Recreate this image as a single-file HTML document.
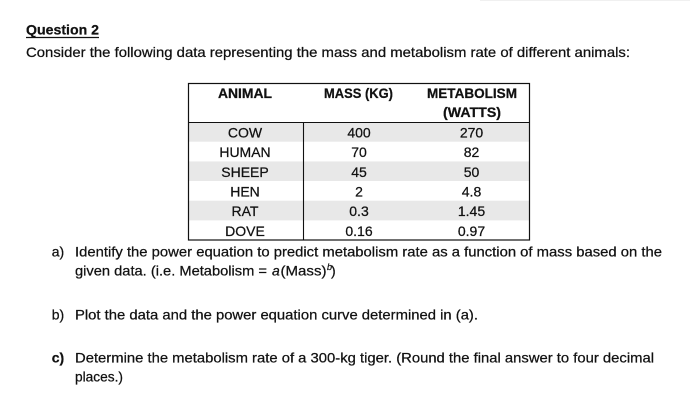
<!DOCTYPE html>
<html>
<head>
<meta charset="utf-8">
<style>
html,body{margin:0;padding:0;background:#fff;}
svg{display:block;}
text{font-family:"Liberation Sans",Arial,sans-serif;fill:#111;stroke:#111;stroke-width:0.25px;}
</style>
</head>
<body>
<svg width="691" height="411" viewBox="0 0 691 411" xmlns="http://www.w3.org/2000/svg">
<rect x="0" y="0" width="691" height="411" fill="#fff"/>
<line x1="480" y1="0.5" x2="690" y2="0.5" stroke="#f0f0f0" stroke-width="1"/>

<!-- Heading -->
<text x="26" y="34.5" font-size="14" font-weight="bold" textLength="73" lengthAdjust="spacingAndGlyphs">Question 2</text>
<line x1="26" y1="37.5" x2="99" y2="37.5" stroke="#111" stroke-width="1.2"/>

<text x="26" y="57" font-size="14" textLength="604" lengthAdjust="spacingAndGlyphs">Consider the following data representing the mass and metabolism rate of different animals:</text>

<!-- Table -->
<rect x="188.5" y="122.5" width="341" height="19.2" fill="#e8e8e8"/>
<rect x="188.5" y="161.4" width="341" height="19.6" fill="#e8e8e8"/>
<rect x="188.5" y="200.7" width="341" height="19.7" fill="#e8e8e8"/>
<rect x="188.5" y="83.5" width="341" height="156.5" fill="none" stroke="#111" stroke-width="1.2"/>
<line x1="188.5" y1="122.5" x2="529.5" y2="122.5" stroke="#111" stroke-width="1.1"/>
<line x1="303.5" y1="122.5" x2="303.5" y2="240" stroke="#111" stroke-width="1.1"/>

<g font-size="14" font-weight="bold">
<text x="245" y="98" text-anchor="middle" textLength="54" lengthAdjust="spacingAndGlyphs">ANIMAL</text>
<text x="358.5" y="98" text-anchor="middle" textLength="69" lengthAdjust="spacingAndGlyphs">MASS (KG)</text>
<text x="472" y="98" text-anchor="middle" textLength="90" lengthAdjust="spacingAndGlyphs">METABOLISM</text>
<text x="472" y="117" text-anchor="middle" textLength="58" lengthAdjust="spacingAndGlyphs">(WATTS)</text>
</g>

<g font-size="14" text-anchor="middle">
<text x="245" y="137.5">COW</text>
<text x="359" y="137.5">400</text>
<text x="471.5" y="137.5">270</text>

<text x="245" y="157.2">HUMAN</text>
<text x="359" y="157.2">70</text>
<text x="471.5" y="157.2">82</text>

<text x="245" y="176.8">SHEEP</text>
<text x="359" y="176.8">45</text>
<text x="471.5" y="176.8">50</text>

<text x="245" y="196.5">HEN</text>
<text x="359" y="196.5">2</text>
<text x="471.5" y="196.5">4.8</text>

<text x="245" y="216.2">RAT</text>
<text x="359" y="216.2">0.3</text>
<text x="471.5" y="216.2">1.45</text>

<text x="245" y="235.8">DOVE</text>
<text x="359" y="235.8">0.16</text>
<text x="471.5" y="235.8">0.97</text>
</g>

<!-- Questions -->
<g font-size="14">
<text x="51.7" y="256.3">a)</text>
<text x="75" y="256.3" textLength="587" lengthAdjust="spacingAndGlyphs">Identify the power equation to predict metabolism rate as a function of mass based on the</text>

<text x="75" y="275.7" textLength="192" lengthAdjust="spacingAndGlyphs">given data.  (i.e. Metabolism =</text>
<text x="272" y="275.7" font-style="italic">a</text>
<text x="280.5" y="275.7" textLength="46" lengthAdjust="spacingAndGlyphs">(Mass)</text>
<text x="327" y="270" font-size="9" font-style="italic">b</text>
<text x="331" y="275.7">)</text>

<text x="51.7" y="319.3">b)</text>
<text x="75" y="319.3" textLength="403" lengthAdjust="spacingAndGlyphs">Plot the data and the power equation curve determined in (a).</text>

<text x="51.7" y="362.7" font-weight="bold">c)</text>
<text x="75" y="362.7" textLength="579" lengthAdjust="spacingAndGlyphs">Determine the metabolism rate of a 300-kg tiger. (Round the final answer to four decimal</text>
<text x="75" y="381.7" textLength="48" lengthAdjust="spacingAndGlyphs">places.)</text>
</g>
</svg>
</body>
</html>
